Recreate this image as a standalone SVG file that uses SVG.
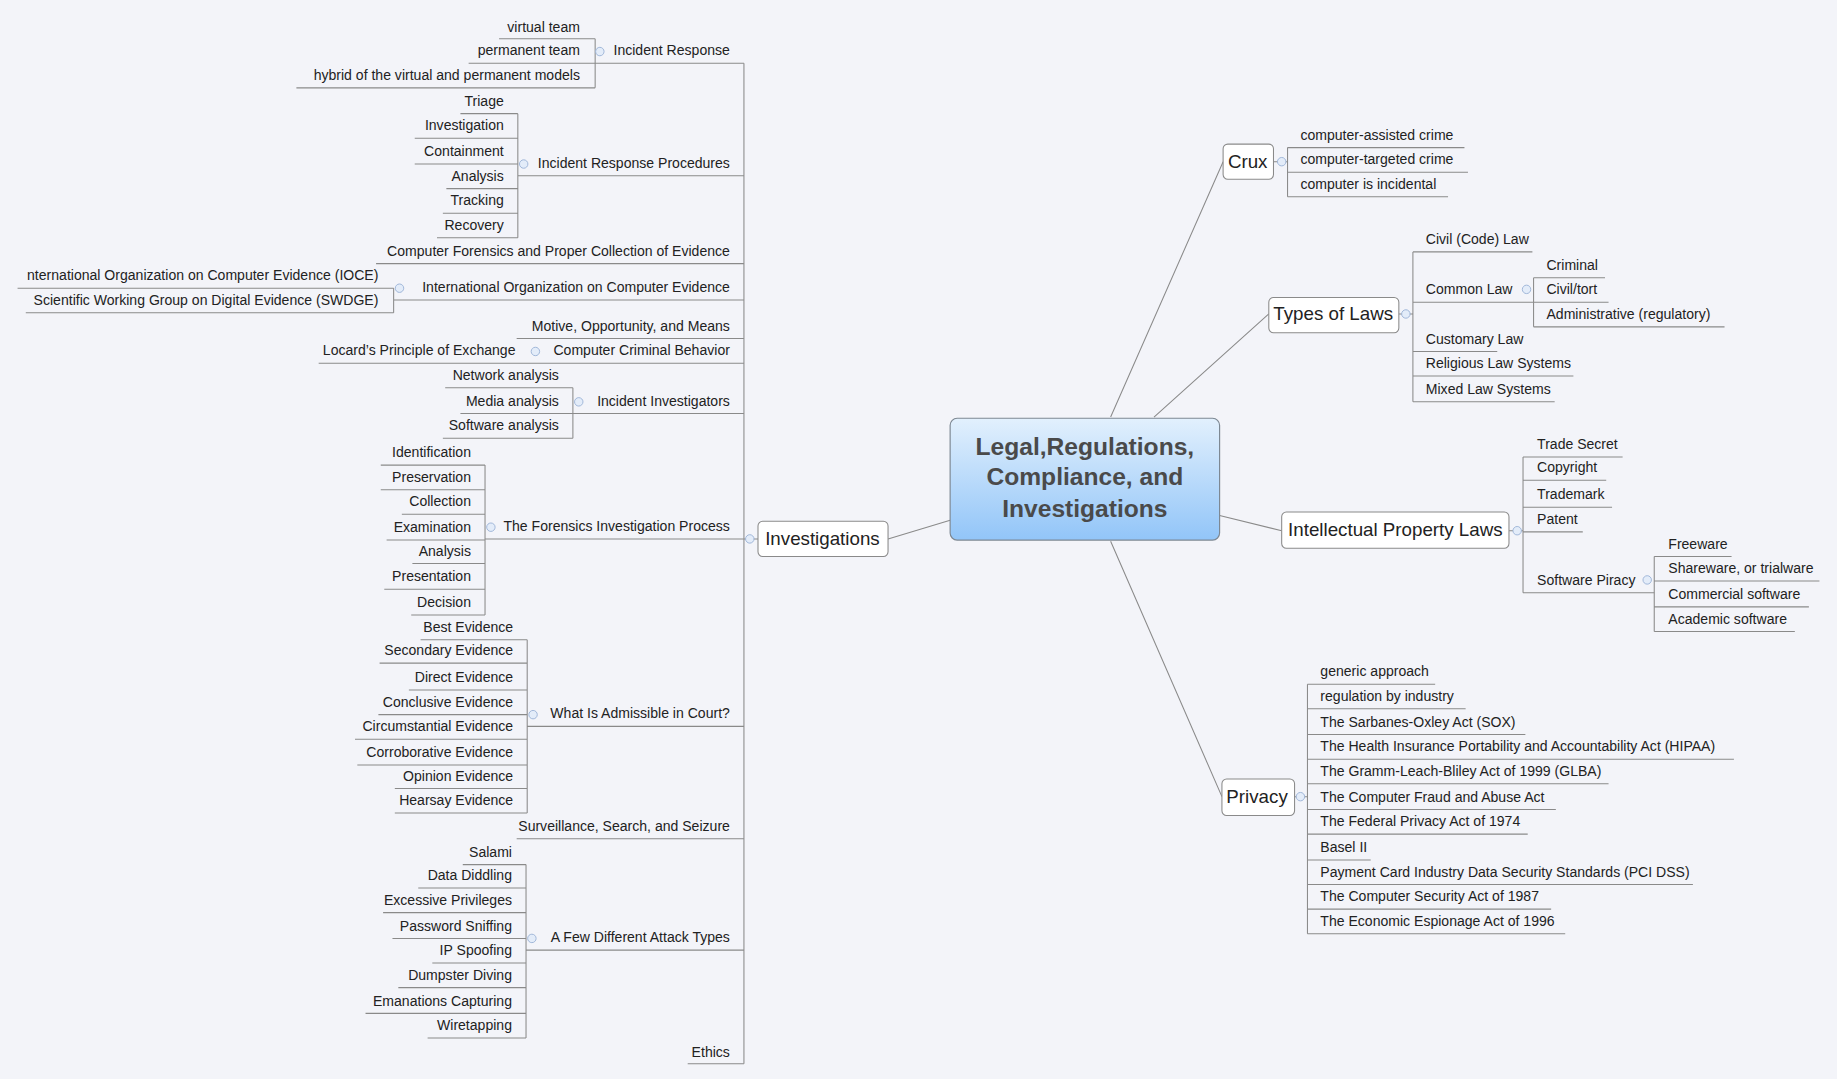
<svg xmlns="http://www.w3.org/2000/svg" width="1837" height="1079" viewBox="0 0 1837 1079">
<defs>
<linearGradient id="cg" x1="0" y1="0" x2="0" y2="1"><stop offset="0" stop-color="#e2f0fd"/><stop offset="1" stop-color="#92c5f8"/></linearGradient>
<style>
text{font-family:"Liberation Sans",Arial,sans-serif;fill:#222;dominant-baseline:central}
.l{font-size:12px;text-anchor:end}
.r{font-size:12px;text-anchor:start}
.m{font-size:16px;text-anchor:middle}
.c{font-size:21px;font-weight:bold;fill:#4a4a4a;text-anchor:middle}
.ln{fill:none;stroke:#8a8a8a;stroke-width:0.9}
.nb{fill:#fff;stroke:#8a8a8a;stroke-width:0.9}
.mc{fill:#e3ecf9;stroke:#9bb3d6;stroke-width:0.8}
</style>
</defs>
<rect width="1837" height="1079" fill="#f3f4f9"/>
<g transform="scale(1.17156)">
<g id="connectors" class="ln">
<path d="M758,460 L811,444 M948,356 L1044,138 M985,356 L1083,268 M1041,440 L1094,453 M948,462 L1043,680"/>
<path d="M647,460 H635 M635,54 V908"/>
<!-- Incident Response -->
<path d="M508,54 H635 M426,33 H508 M400,54 H508 M253,75 H508 M508,33 V75"/>
<path d="M442,150 H635 M393,97 H442 M354,118 H442 M354,140 H442 M381,161 H442 M378,182 H442 M373,203 H442 M442,97 V203"/>
<path d="M321,225 H635"/>
<path d="M336,256 H635 M15,246 H336 M22,267 H336 M336,246 V267"/>
<path d="M441,289 H635"/>
<path d="M452,310 H635 M272,310 H452"/>
<path d="M489,353 H635 M380,331 H489 M393,353 H489 M378,374 H489 M489,331 V374"/>
<path d="M414,460 H635 M325,397 H414 M325,418 H414 M343,439 H414 M330,461 H414 M352,481 H414 M328,503 H414 M351,525 H414 M414,397 V525"/>
<path d="M450,620 H635 M359,546 H450 M324,566 H450 M349,589 H450 M323,610 H450 M303,631 H450 M305,653 H450 M337,673 H450 M337,694 H450 M450,546 V694"/>
<path d="M441,716 H635"/>
<path d="M449,811 H635 M395,738 H449 M357,758 H449 M327,779 H449 M335,801 H449 M369,822 H449 M340,843 H449 M312,865 H449 M365,886 H449 M449,738 V886"/>
<path d="M587,908 H635"/>
<!-- right -->
<path d="M1087,138 H1099 M1099,126 V168 M1099,126 H1250 M1099,147 H1253 M1099,168 H1236"/>
<path d="M1194,268 H1206 M1206,215 V343 M1206,215 H1308 M1206,258 H1309 M1206,300 H1278 M1206,321 H1343 M1206,343 H1327"/>
<path d="M1309,237 V279 M1309,237 H1370 M1309,258 H1373 M1309,279 H1472"/>
<path d="M1288,453 H1300 M1300,390 V506 M1300,390 H1385 M1300,410 H1371 M1300,433 H1376 M1300,454 H1351 M1300,506 H1412"/>
<path d="M1412,475 V539 M1412,475 H1478 M1412,496 H1553 M1412,518 H1544 M1412,539 H1532"/>
<path d="M1105,680 H1116 M1116,584 V797 M1116,584 H1225 M1116,605 H1251 M1116,627 H1302 M1116,648 H1480 M1116,669 H1373 M1116,691 H1328 M1116,712 H1304 M1116,734 H1170 M1116,755 H1445 M1116,776 H1324 M1116,797 H1336"/>
</g>
<g id="markers">
<circle class="mc" cx="640" cy="460" r="3.6"/><circle class="mc" cx="512" cy="44" r="3.6"/><circle class="mc" cx="447" cy="140" r="3.6"/><circle class="mc" cx="341" cy="246" r="3.6"/><circle class="mc" cx="457" cy="300" r="3.6"/><circle class="mc" cx="494" cy="343" r="3.6"/><circle class="mc" cx="419" cy="450" r="3.6"/><circle class="mc" cx="455" cy="610" r="3.6"/><circle class="mc" cx="454" cy="801" r="3.6"/>
<circle class="mc" cx="1094" cy="138" r="3.6"/><circle class="mc" cx="1200" cy="268" r="3.6"/><circle class="mc" cx="1303" cy="247" r="3.6"/><circle class="mc" cx="1295" cy="453" r="3.6"/><circle class="mc" cx="1406" cy="495" r="3.6"/><circle class="mc" cx="1110" cy="680" r="3.6"/>
</g>
<g id="central"><rect x="811" y="357" width="230" height="104" rx="6" fill="url(#cg)" stroke="#7d8893"/>
<text class="c" x="926" y="381">Legal,Regulations,</text><text class="c" x="926" y="407">Compliance, and</text><text class="c" x="926" y="434">Investigations</text></g>
<g id="investigations"><rect class="nb" x="647" y="445" width="111" height="30" rx="4"/><text class="m" x="702" y="460">Investigations</text>
<text class="l" x="623" y="43">Incident Response</text>
<text class="l" x="495" y="23">virtual team</text><text class="l" x="495" y="43">permanent team</text><text class="l" x="495" y="64">hybrid of the virtual and permanent models</text>
<text class="l" x="623" y="139">Incident Response Procedures</text>
<text class="l" x="430" y="86">Triage</text><text class="l" x="430" y="107">Investigation</text><text class="l" x="430" y="129">Containment</text><text class="l" x="430" y="150">Analysis</text><text class="l" x="430" y="171">Tracking</text><text class="l" x="430" y="192">Recovery</text>
<text class="l" x="623" y="214">Computer Forensics and Proper Collection of Evidence</text>
<text class="l" x="623" y="245">International Organization on Computer Evidence</text>
<text class="l" x="323" y="235">nternational Organization on Computer Evidence (IOCE)</text><text class="l" x="323" y="256">Scientific Working Group on Digital Evidence (SWDGE)</text>
<text class="l" x="623" y="278">Motive, Opportunity, and Means</text>
<text class="l" x="623" y="299">Computer Criminal Behavior</text><text class="l" x="440" y="299">Locard’s Principle of Exchange</text>
<text class="l" x="623" y="342">Incident Investigators</text>
<text class="l" x="477" y="320">Network analysis</text><text class="l" x="477" y="342">Media analysis</text><text class="l" x="477" y="363">Software analysis</text>
<text class="l" x="623" y="449">The Forensics Investigation Process</text>
<text class="l" x="402" y="386">Identification</text><text class="l" x="402" y="407">Preservation</text><text class="l" x="402" y="428">Collection</text><text class="l" x="402" y="450">Examination</text><text class="l" x="402" y="470">Analysis</text><text class="l" x="402" y="492">Presentation</text><text class="l" x="402" y="514">Decision</text>
<text class="l" x="623" y="609">What Is Admissible in Court?</text>
<text class="l" x="438" y="535">Best Evidence</text><text class="l" x="438" y="555">Secondary Evidence</text><text class="l" x="438" y="578">Direct Evidence</text><text class="l" x="438" y="599">Conclusive Evidence</text><text class="l" x="438" y="620">Circumstantial Evidence</text><text class="l" x="438" y="642">Corroborative Evidence</text><text class="l" x="438" y="662">Opinion Evidence</text><text class="l" x="438" y="683">Hearsay Evidence</text>
<text class="l" x="623" y="705">Surveillance, Search, and Seizure</text>
<text class="l" x="623" y="800">A Few Different Attack Types</text>
<text class="l" x="437" y="727">Salami</text><text class="l" x="437" y="747">Data Diddling</text><text class="l" x="437" y="768">Excessive Privileges</text><text class="l" x="437" y="790">Password Sniffing</text><text class="l" x="437" y="811">IP Spoofing</text><text class="l" x="437" y="832">Dumpster Diving</text><text class="l" x="437" y="854">Emanations Capturing</text><text class="l" x="437" y="875">Wiretapping</text>
<text class="l" x="623" y="898">Ethics</text>
</g>
<g id="crux"><rect class="nb" x="1044" y="123" width="43" height="30" rx="4"/><text class="m" x="1065" y="138">Crux</text>
<text class="r" x="1110" y="115">computer-assisted crime</text><text class="r" x="1110" y="136">computer-targeted crime</text><text class="r" x="1110" y="157">computer is incidental</text></g>
<g id="types"><rect class="nb" x="1083" y="254" width="111" height="30" rx="4"/><text class="m" x="1138" y="268">Types of Laws</text>
<text class="r" x="1217" y="204">Civil (Code) Law</text><text class="r" x="1217" y="247">Common Law</text><text class="r" x="1217" y="289">Customary Law</text><text class="r" x="1217" y="310">Religious Law Systems</text><text class="r" x="1217" y="332">Mixed Law Systems</text>
<text class="r" x="1320" y="226">Criminal</text><text class="r" x="1320" y="247">Civil/tort</text><text class="r" x="1320" y="268">Administrative (regulatory)</text></g>
<g id="ip"><rect class="nb" x="1094" y="437" width="194" height="31" rx="4"/><text class="m" x="1191" y="452">Intellectual Property Laws</text>
<text class="r" x="1312" y="379">Trade Secret</text><text class="r" x="1312" y="399">Copyright</text><text class="r" x="1312" y="422">Trademark</text><text class="r" x="1312" y="443">Patent</text><text class="r" x="1312" y="495">Software Piracy</text>
<text class="r" x="1424" y="464">Freeware</text><text class="r" x="1424" y="485">Shareware, or trialware</text><text class="r" x="1424" y="507">Commercial software</text><text class="r" x="1424" y="528">Academic software</text></g>
<g id="privacy"><rect class="nb" x="1043" y="665" width="62" height="31" rx="4"/><text class="m" x="1073" y="680">Privacy</text>
<text class="r" x="1127" y="573">generic approach</text><text class="r" x="1127" y="594">regulation by industry</text><text class="r" x="1127" y="616">The Sarbanes-Oxley Act (SOX)</text><text class="r" x="1127" y="637">The Health Insurance Portability and Accountability Act (HIPAA)</text><text class="r" x="1127" y="658">The Gramm-Leach-Bliley Act of 1999 (GLBA)</text><text class="r" x="1127" y="680">The Computer Fraud and Abuse Act</text><text class="r" x="1127" y="701">The Federal Privacy Act of 1974</text><text class="r" x="1127" y="723">Basel II</text><text class="r" x="1127" y="744">Payment Card Industry Data Security Standards (PCI DSS)</text><text class="r" x="1127" y="765">The Computer Security Act of 1987</text><text class="r" x="1127" y="786">The Economic Espionage Act of 1996</text></g>
</g>
</svg>
